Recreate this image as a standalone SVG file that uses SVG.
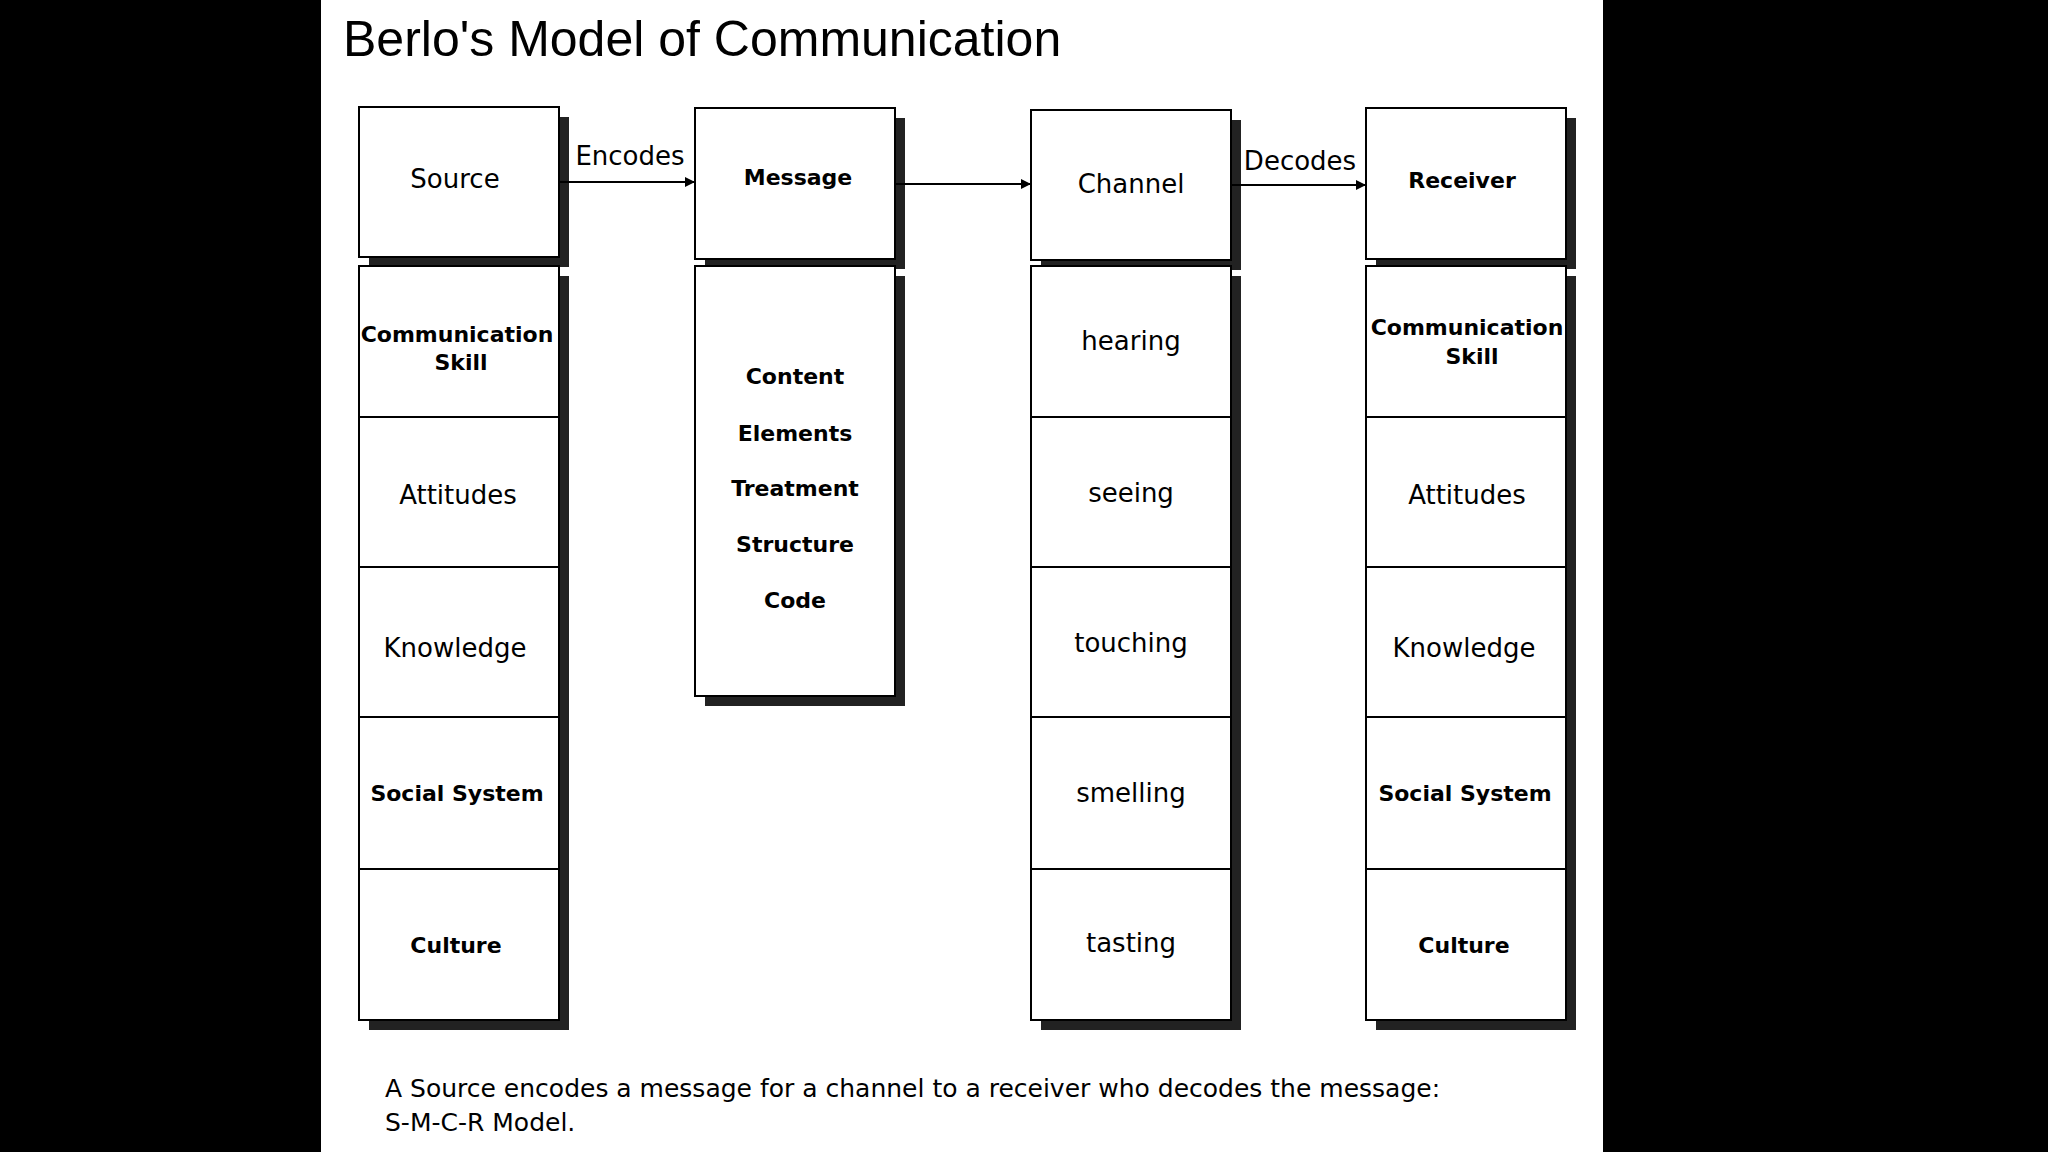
<svg xmlns="http://www.w3.org/2000/svg" width="2048" height="1152" viewBox="0 0 2048 1152">
<defs>
<style>
.b{fill:#fff;stroke:#000;stroke-width:2}
.s{fill:#222}
.t{font-family:"DejaVu Sans",Verdana,sans-serif;font-size:26px;text-anchor:middle;dominant-baseline:middle;fill:#000}
.k{font-family:"DejaVu Sans",Verdana,sans-serif;font-size:22px;font-weight:bold;text-anchor:middle;dominant-baseline:middle;fill:#000}
.l{stroke:#000;stroke-width:2}
</style>
<marker id="a" markerWidth="10" markerHeight="10" refX="9" refY="5" orient="auto" markerUnits="userSpaceOnUse"><path d="M0,0 L10,5 L0,10 Z" fill="#000"/></marker>
</defs>
<rect width="2048" height="1152" fill="#000"/>
<rect x="321" y="0" width="1282" height="1152" fill="#fff"/>
<text x="343" y="56" font-family="Liberation Sans,Arial,sans-serif" font-size="50">Berlo's Model of Communication</text>

<g id="source">
<rect class="s" x="369" y="117" width="200" height="150"/><rect class="b" x="359" y="107" width="200" height="150"/>
<text class="t" x="455" y="180">Source</text>
<rect class="s" x="369" y="276" width="200" height="754"/><rect class="b" x="359" y="266" width="200" height="754"/>
<line class="l" x1="359" y1="417" x2="559" y2="417"/><line class="l" x1="359" y1="567" x2="559" y2="567"/><line class="l" x1="359" y1="717" x2="559" y2="717"/><line class="l" x1="359" y1="869" x2="559" y2="869"/>
<text class="k" x="457" y="336">Communication</text><text class="k" x="461" y="364">Skill</text>
<text class="t" x="458" y="496">Attitudes</text>
<text class="t" x="455" y="649">Knowledge</text>
<text class="k" x="457" y="795">Social System</text>
<text class="k" x="456" y="947">Culture</text>
</g>

<g id="message">
<rect class="s" x="705" y="118" width="200" height="151"/><rect class="b" x="695" y="108" width="200" height="151"/>
<text class="k" x="798" y="179">Message</text>
<rect class="s" x="705" y="276" width="200" height="430"/><rect class="b" x="695" y="266" width="200" height="430"/>
<text class="k" x="795" y="378">Content</text>
<text class="k" x="795" y="435">Elements</text>
<text class="k" x="795" y="490">Treatment</text>
<text class="k" x="795" y="546">Structure</text>
<text class="k" x="795" y="602">Code</text>
</g>

<g id="channel">
<rect class="s" x="1041" y="120" width="200" height="150"/><rect class="b" x="1031" y="110" width="200" height="150"/>
<text class="t" x="1131" y="185">Channel</text>
<rect class="s" x="1041" y="276" width="200" height="754"/><rect class="b" x="1031" y="266" width="200" height="754"/>
<line class="l" x1="1031" y1="417" x2="1231" y2="417"/><line class="l" x1="1031" y1="567" x2="1231" y2="567"/><line class="l" x1="1031" y1="717" x2="1231" y2="717"/><line class="l" x1="1031" y1="869" x2="1231" y2="869"/>
<text class="t" x="1131" y="342">hearing</text>
<text class="t" x="1131" y="494">seeing</text>
<text class="t" x="1131" y="644">touching</text>
<text class="t" x="1131" y="794">smelling</text>
<text class="t" x="1131" y="944">tasting</text>
</g>

<g id="receiver">
<rect class="s" x="1376" y="118" width="200" height="151"/><rect class="b" x="1366" y="108" width="200" height="151"/>
<text class="k" x="1462" y="182">Receiver</text>
<rect class="s" x="1376" y="276" width="200" height="754"/><rect class="b" x="1366" y="266" width="200" height="754"/>
<line class="l" x1="1366" y1="417" x2="1566" y2="417"/><line class="l" x1="1366" y1="567" x2="1566" y2="567"/><line class="l" x1="1366" y1="717" x2="1566" y2="717"/><line class="l" x1="1366" y1="869" x2="1566" y2="869"/>
<text class="k" x="1467" y="329">Communication</text><text class="k" x="1472" y="358">Skill</text>
<text class="t" x="1467" y="496">Attitudes</text>
<text class="t" x="1464" y="649">Knowledge</text>
<text class="k" x="1465" y="795">Social System</text>
<text class="k" x="1464" y="947">Culture</text>
</g>

<g id="connectors">
<line class="l" x1="560" y1="182" x2="694" y2="182" marker-end="url(#a)"/>
<line class="l" x1="896" y1="184" x2="1030" y2="184" marker-end="url(#a)"/>
<line class="l" x1="1232" y1="185" x2="1365" y2="185" marker-end="url(#a)"/>
<text class="t" x="630" y="157">Encodes</text>
<text class="t" x="1300" y="162">Decodes</text>
</g>

<text font-family="DejaVu Sans,Verdana,sans-serif" font-size="25" x="385" y="1097">A Source encodes a message for a channel to a receiver who decodes the message:</text>
<text font-family="DejaVu Sans,Verdana,sans-serif" font-size="25" x="385" y="1131">S-M-C-R Model.</text>
</svg>
